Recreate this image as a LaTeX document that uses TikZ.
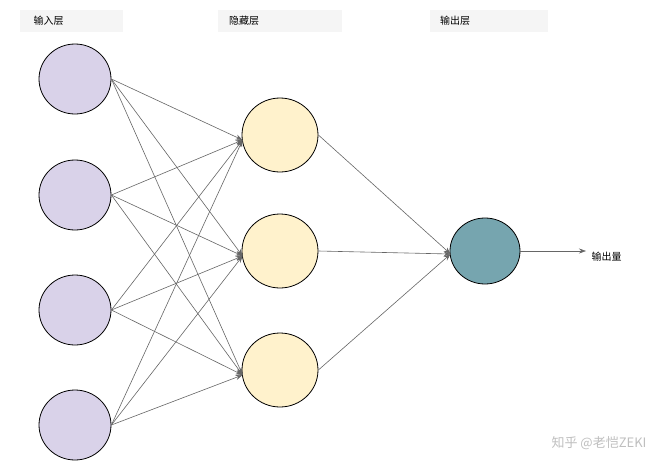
\documentclass[tikz,border=0pt]{standalone}
\usepackage{fontspec}
\newfontfamily\cjk{Noto Sans CJK SC}
\usetikzlibrary{arrows.meta,shapes.geometric}
\definecolor{inc}{HTML}{D9D2E9}
\definecolor{hic}{HTML}{FFF2CC}
\definecolor{outc}{HTML}{76A5AF}
\definecolor{edgec}{HTML}{666666}
\begin{document}
\begin{tikzpicture}[x=1pt,y=-1pt,
  neuron/.style={ellipse,draw=black,line width=0.8pt,inner sep=0pt},
  inn/.style={neuron,fill=inc,minimum width=72pt,minimum height=70pt},
  hid/.style={neuron,fill=hic,minimum width=76pt,minimum height=74pt},
  outn/.style={neuron,fill=outc,minimum width=70pt,minimum height=66pt},
  lbl/.style={fill=black!4,font=\cjk\fontsize{10}{11}\selectfont,anchor=west,minimum height=22pt,inner sep=0pt},
  conn/.style={draw=edgec,line width=0.6pt,-{Stealth[length=7pt,width=5pt]}}]
\useasboundingbox (0,0) rectangle (667,474);
\fill[white] (0,0) rectangle (667,474);
\node[lbl,minimum width=103pt,text width=90pt,align=left] (l1) at (20,21) {\hspace*{7pt}输入层};
\node[lbl,minimum width=124pt,text width=118pt,align=left] (l2) at (218,21) {\hspace*{8pt}隐藏层};
\node[lbl,minimum width=118pt,text width=112pt,align=left] (l3) at (430,21) {\hspace*{7pt}输出层};
\node[inn] (i1) at (75,79) {};
\node[inn] (i2) at (75,195) {};
\node[inn] (i3) at (75,310) {};
\node[inn] (i4) at (75,425) {};
\node[hid] (h1) at (280,135) {};
\node[hid] (h2) at (280,251) {};
\node[hid] (h3) at (280,370) {};
\node[outn] (o) at (485,251) {};
\node[font=\cjk\fontsize{10}{11}\selectfont,anchor=west] (y) at (588,257) {输出量};
\coordinate (ye) at (586,251);
\foreach \i in {1,...,4}{\foreach \h in {1,2,3}{\draw[conn] (i\i.east) -- ([xshift=1pt,yshift=-5pt]h\h.west);}}
\foreach \h in {1,2,3}{\draw[conn] (h\h.east) -- ([xshift=1pt,yshift=-3pt]o.west);}
\draw[conn] (o.east) -- (ye);
\node[font=\cjk\fontsize{13}{14}\selectfont,text=black!25,anchor=east] (wm) at (650,443) {知乎 @老恺ZEKI};
\end{tikzpicture}
\end{document}
